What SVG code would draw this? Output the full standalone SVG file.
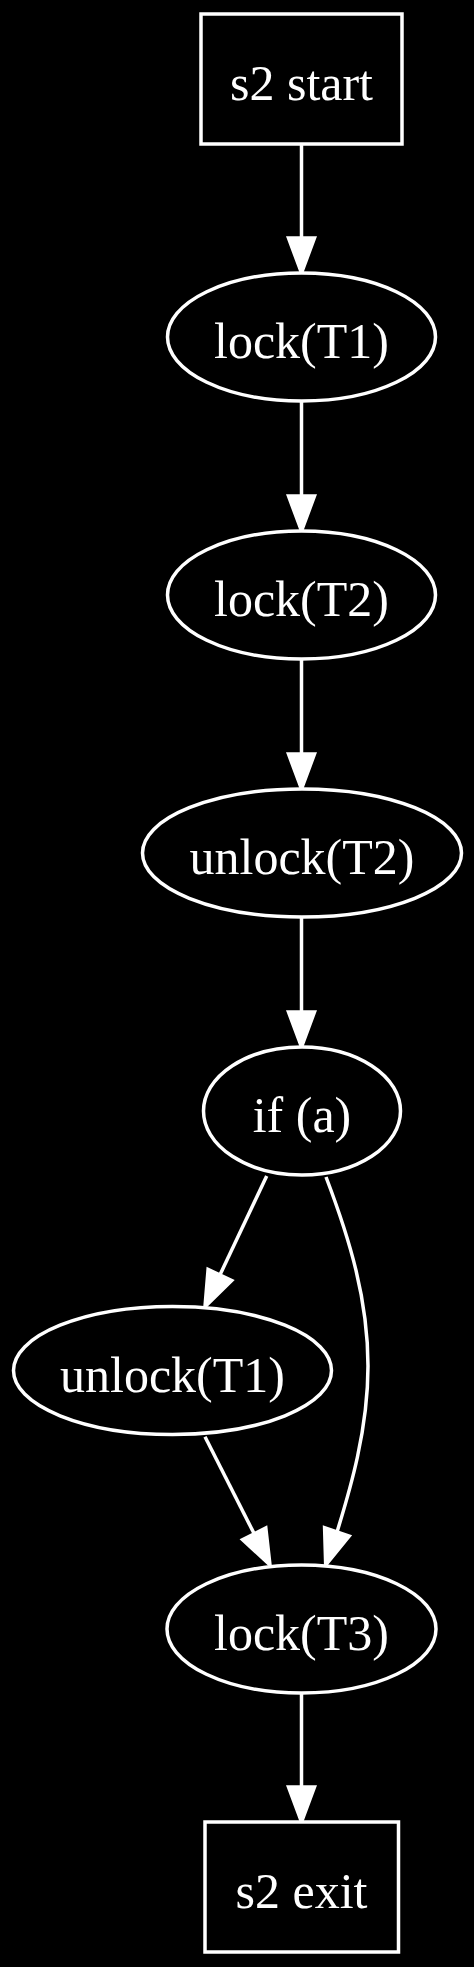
<svg xmlns="http://www.w3.org/2000/svg" width="474" height="1967" viewBox="0 0 474 1967">
<style>
.shape{fill:#000;stroke:#fff;stroke-width:3.5}
.lbl{fill:#fff;font-family:"Liberation Serif","Times New Roman",serif;font-size:50px;text-anchor:middle}
.edge{fill:none;stroke:#fff;stroke-width:3.5}
.head{fill:#fff;stroke:#fff;stroke-width:3.5}
</style>
<rect width="474" height="1967" fill="#000"/>
<g id="connectors">
<path class="edge" d="M301.5,144 L301.5,238"/>
<polygon class="head" points="301.5,273 288.5,238 314.5,238"/>
<path class="edge" d="M301.5,401 L301.5,496"/>
<polygon class="head" points="301.5,531 288.5,496 314.5,496"/>
<path class="edge" d="M301.5,659 L301.5,754"/>
<polygon class="head" points="301.5,789 288.5,754 314.5,754"/>
<path class="edge" d="M301.5,917 L301.5,1012"/>
<polygon class="head" points="301.5,1047 288.5,1012 314.5,1012"/>
<path class="edge" d="M266.7,1176 L219.9,1275"/>
<polygon class="head" points="205,1306.7 208.1,1269.4 231.7,1280.6"/>
<path class="edge" d="M326,1177 C350,1240 368,1300 368,1366 C368,1430 350,1490 337,1532"/>
<polygon class="head" points="325.7,1565 324.6,1527.7 349.2,1536.1"/>
<path class="edge" d="M205,1436.7 L254.2,1533.8"/>
<polygon class="head" points="270,1565 242.6,1539.7 265.8,1527.9"/>
<path class="edge" d="M301.5,1693 L301.5,1787"/>
<polygon class="head" points="301.5,1822 288.5,1787 314.5,1787"/>
</g>
<g id="s2_start">
<rect class="shape" x="201" y="14" width="201" height="130"/>
<text class="lbl" x="301.5" y="100">s2 start</text>
</g>
<g id="lock_T1">
<ellipse class="shape" cx="301.5" cy="337" rx="134" ry="64"/>
<text class="lbl" x="301.5" y="358">lock(T1)</text>
</g>
<g id="lock_T2">
<ellipse class="shape" cx="301.5" cy="595" rx="134" ry="64"/>
<text class="lbl" x="301.5" y="616">lock(T2)</text>
</g>
<g id="unlock_T2">
<ellipse class="shape" cx="302" cy="853" rx="159.5" ry="64"/>
<text class="lbl" x="302" y="874">unlock(T2)</text>
</g>
<g id="if_a">
<ellipse class="shape" cx="302" cy="1111" rx="98.5" ry="64"/>
<text class="lbl" x="302" y="1132">if (a)</text>
</g>
<g id="unlock_T1">
<ellipse class="shape" cx="172.5" cy="1370.5" rx="159" ry="64"/>
<text class="lbl" x="172.5" y="1391.5">unlock(T1)</text>
</g>
<g id="lock_T3">
<ellipse class="shape" cx="301.5" cy="1629" rx="134.5" ry="64"/>
<text class="lbl" x="301.5" y="1650">lock(T3)</text>
</g>
<g id="s2_exit">
<rect class="shape" x="205" y="1822" width="193.5" height="130"/>
<text class="lbl" x="301.5" y="1908">s2 exit</text>
</g>
</svg>
